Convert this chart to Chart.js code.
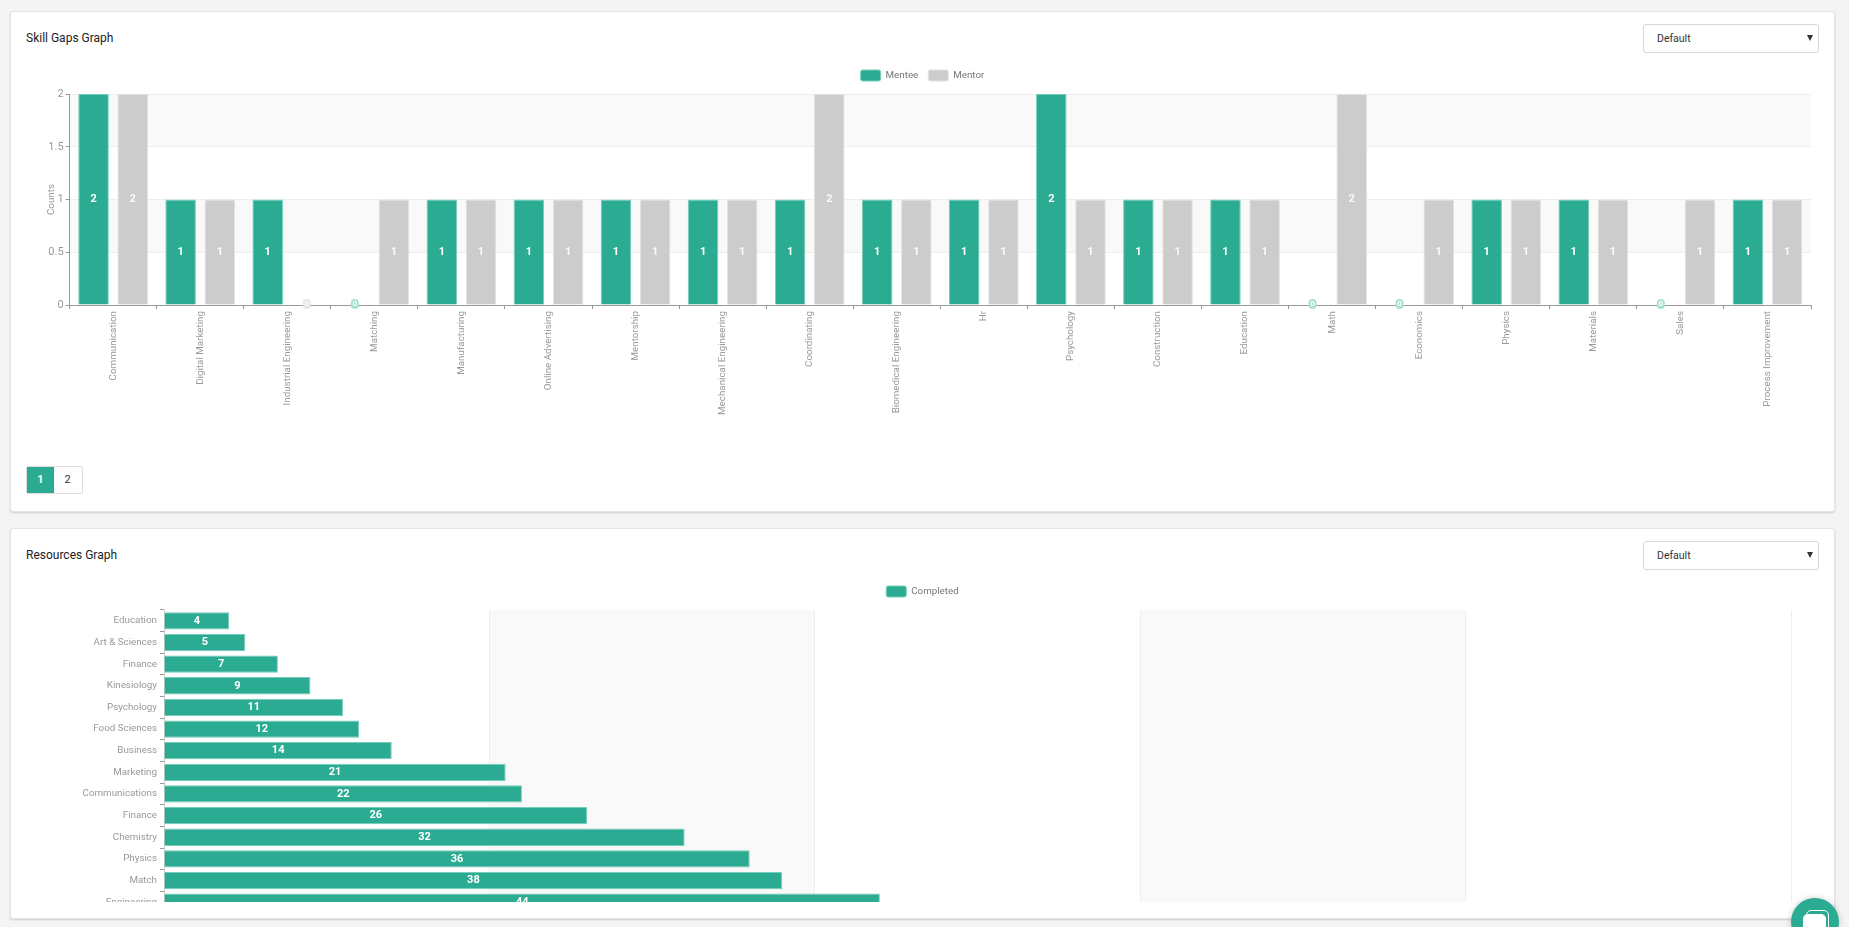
<!DOCTYPE html>
<html>
<head>
<meta charset="utf-8">
<title>Graphs</title>
<script src="https://cdn.jsdelivr.net/npm/chart.js@4"></script>
<style>
    html, body { margin: 0; padding: 0; height: 100%; overflow: hidden; background: #f4f4f4; font-family: Roboto, sans-serif; }
    .card { position: absolute; left: 10px; width: 1823px; background: #fff; border: 1px solid #e4e4e4; border-radius: 3px; box-shadow: 0 1px 2px rgba(0,0,0,0.15); }
    #card1 { top: 11px; height: 499px; }
    #card2 { top: 528px; height: 389px; }
    .title { position: absolute; left: 26px; font-size: 12px; line-height: 16px; color: #222; }
    select { position: absolute; left: 1643px; width: 176px; height: 29px; padding: 0 0 0 13px; font: 10.5px Roboto, sans-serif; color: #333; background: #fff; border: 1px solid #d8d8d8; border-radius: 3px; appearance: none; -webkit-appearance: none; }
    .arrow { position: absolute; left: 1807px; width: 0; height: 0; border-left: 3px solid transparent; border-right: 3px solid transparent; border-top: 6px solid #333; }
    .chart-box { position: absolute; left: 26px; width: 1793px; overflow: hidden; }
    .chart-box canvas { display: block; }
    .pager { position: absolute; left: 26px; top: 466px; width: 57px; height: 28px; border: 1px solid #ddd; border-radius: 2px; box-sizing: border-box; font-size: 11px; line-height: 26px; text-align: center; color: #333; background: #fff; }
    .pager span { float: left; width: 27px; height: 26px; }
    .pager .active { background: #2bab91; color: #fff; font-weight: bold; }
    #chat { position: absolute; left: 1791px; top: 898px; width: 48px; height: 48px; border-radius: 50%; background: #2bab91; box-shadow: 0 0 6px rgba(0,0,0,0.2); }
    #chat i { position: absolute; box-sizing: border-box; width: 23px; height: 23px; border-radius: 5px; }
    #chat .back { left: 15px; top: 12px; border: 1px solid #fff; }
    #chat .front { left: 12px; top: 16px; background: #fff; }
</style>
</head>
<body>

<div class="card" id="card1"></div>
<div class="card" id="card2"></div>

<div class="title" style="top:30px">Skill Gaps Graph</div>
<select style="top:24px"><option>Default</option></select>
<div class="arrow" style="top:35px"></div>
<div class="chart-box" style="top:60px;height:398px"><canvas id="skillChart" width="1793" height="398"></canvas></div>
<div class="pager"><span class="active">1</span><span>2</span></div>

<div class="title" style="top:547px">Resources Graph</div>
<select style="top:541px"><option>Default</option></select>
<div class="arrow" style="top:552px"></div>
<div class="chart-box" style="top:576px;height:326px"><canvas id="resourceChart" width="1793" height="367"></canvas></div>

<div id="chat"><i class="back"></i><i class="front"></i></div>

<script>
// 차트 데이터
const skillLabels = ['Communication', 'Digital Marketing', 'Industrial Engineering', 'Matching', 'Manufacturing',
    'Online Advertising', 'Mentorship', 'Mechanical Engineering', 'Coordinating', 'Biomedical Engineering',
    'Hr', 'Psychology', 'Construction', 'Education', 'Math',
    'Economics', 'Physics', 'Materials', 'Sales', 'Process Improvement'];
const menteeValues = [2, 1, 1, 0, 1, 1, 1, 1, 1, 1, 1, 2, 1, 1, 0, 0, 1, 1, 0, 1];
const mentorValues = [2, 1, 0, 1, 1, 1, 1, 1, 2, 1, 1, 1, 1, 1, 2, 1, 1, 1, 1, 1];

const resourceLabels = ['Education', 'Art & Sciences', 'Finance', 'Kinesiology', 'Psychology', 'Food Sciences', 'Business',
    'Marketing', 'Communications', 'Finance', 'Chemistry', 'Physics', 'Match', 'Engineering'];
const completedValues = [4, 5, 7, 9, 11, 12, 14, 21, 22, 26, 32, 36, 38, 44];

const GREEN = '#2bab91';
const GREEN_BORDER = '#74cdb9';
const GREY = '#cccccc';
const GREY_BORDER = '#e2e2e2';
const AXIS = '#999999';
const TEXT = '#999999';

Chart.defaults.font.family = 'Roboto, sans-serif';
Chart.defaults.font.size = 9.8;
Chart.defaults.animation = false;

// 범례 아래 여백
const legendGapPlugin = {
    id: 'legendGap',
    beforeInit(chart) {
        const fit = chart.legend.fit;
        chart.legend.fit = function() {
            fit.bind(chart.legend)();
            this.height += 3;
        };
    }
};

// 줄무늬 배경 (값 축의 눈금 사이를 번갈아 칠함)
const bandPlugin = {
    id: 'bands',
    beforeDraw(chart) {
        const area = chart.chartArea;
        const horizontal = chart.options.indexAxis === 'y';
        const scale = horizontal ? chart.scales.x : chart.scales.y;
        const ctx = chart.ctx;
        ctx.save();
        ctx.fillStyle = '#f9f9f9';
        for (let i = 1; i < scale.ticks.length; i += 2) {
            const a = scale.getPixelForValue(scale.ticks[i].value);
            const b = scale.getPixelForValue(scale.ticks[i + 1] ? scale.ticks[i + 1].value : scale.ticks[i].value);
            if (horizontal) ctx.fillRect(a, area.top, b - a, area.height);
            else ctx.fillRect(area.left, b, area.width, a - b);
        }
        ctx.restore();
    }
};

// 막대 가운데 값 표시
const valuePlugin = {
    id: 'values',
    afterDatasetsDraw(chart) {
        const ctx = chart.ctx;
        ctx.save();
        ctx.textAlign = 'center';
        ctx.textBaseline = 'middle';
        chart.data.datasets.forEach((dataset, d) => {
            chart.getDatasetMeta(d).data.forEach((bar, i) => {
                const value = dataset.data[i];
                const p = bar.getCenterPoint();
                if (value === 0) {
                    ctx.fillStyle = dataset.zeroColor;
                    ctx.beginPath();
                    ctx.roundRect(p.x - 4, p.y - 6, 8, 10, 4);
                    ctx.fill();
                    ctx.fillStyle = dataset.labelColor;
                    ctx.font = 'bold 8px Roboto, sans-serif';
                    ctx.fillText(value, p.x, p.y - 1);
                    return;
                }
                ctx.font = 'bold 11px Roboto, sans-serif';
                ctx.fillStyle = dataset.labelColor;
                ctx.fillText(value, p.x, p.y);
            });
        });
        ctx.restore();
    }
};

const legendOptions = {
    position: 'top',
    labels: { boxWidth: 20, boxHeight: 11, padding: 10, useBorderRadius: true, borderRadius: 2, color: '#777777', font: { size: 9.8 } }
};

// 스킬 차트
new Chart(document.getElementById('skillChart'), {
    type: 'bar',
    plugins: [legendGapPlugin, bandPlugin, valuePlugin],
    data: {
        labels: skillLabels,
        datasets: [
            { label: 'Mentee', data: menteeValues, backgroundColor: GREEN, borderColor: GREEN_BORDER, borderWidth: 1,
              categoryPercentage: 0.9, barPercentage: 0.78, labelColor: '#ffffff', zeroColor: '#a9e0d3' },
            { label: 'Mentor', data: mentorValues, backgroundColor: GREY, borderColor: GREY_BORDER, borderWidth: 1,
              categoryPercentage: 0.9, barPercentage: 0.78, labelColor: '#fafafa', zeroColor: '#e6e6e6' }
        ]
    },
    options: {
        responsive: false,
        layout: { padding: { left: 8, right: 8 } },
        plugins: { legend: legendOptions, tooltip: { enabled: false } },
        scales: {
            x: {
                grid: { drawOnChartArea: false, tickLength: 4, color: AXIS, offset: true },
                border: { color: AXIS },
                ticks: { minRotation: 90, maxRotation: 90, autoSkip: false, color: TEXT, padding: 2 },
                afterFit(scale) { scale.height = 153; }
            },
            y: {
                min: 0,
                max: 2,
                title: { display: true, text: 'Counts', color: TEXT, padding: { top: 12, bottom: 0 } },
                grid: { color: '#eeeeee', tickColor: AXIS, tickLength: 4 },
                border: { color: AXIS },
                ticks: { stepSize: 0.5, color: TEXT, padding: 2, font: { size: 11 }, callback: value => String(value) },
                afterFit(scale) { scale.width = 35.6; }
            }
        }
    }
});

// 리소스 차트
new Chart(document.getElementById('resourceChart'), {
    type: 'bar',
    plugins: [legendGapPlugin, bandPlugin, valuePlugin],
    data: {
        labels: resourceLabels,
        datasets: [
            { label: 'Completed', data: completedValues, backgroundColor: GREEN, borderColor: GREEN_BORDER, borderWidth: 1,
              categoryPercentage: 1, barPercentage: 0.8, labelColor: '#ffffff', zeroColor: '#a9e0d3' }
        ]
    },
    options: {
        indexAxis: 'y',
        responsive: false,
        layout: { padding: { left: 28, right: 28 } },
        plugins: { legend: legendOptions, tooltip: { enabled: false } },
        scales: {
            x: {
                min: 0,
                max: 100,
                grid: { color: '#eeeeee', tickColor: AXIS, tickLength: 4 },
                border: { color: AXIS },
                ticks: { stepSize: 20, color: TEXT },
                afterFit(scale) { scale.height = 30; }
            },
            y: {
                grid: { drawOnChartArea: false, tickLength: 4, color: AXIS, offset: true },
                border: { color: '#cccccc' },
                ticks: { autoSkip: false, color: TEXT, padding: 3 },
                afterFit(scale) { scale.width = 110; }
            }
        }
    }
});
</script>
</body>
</html>
